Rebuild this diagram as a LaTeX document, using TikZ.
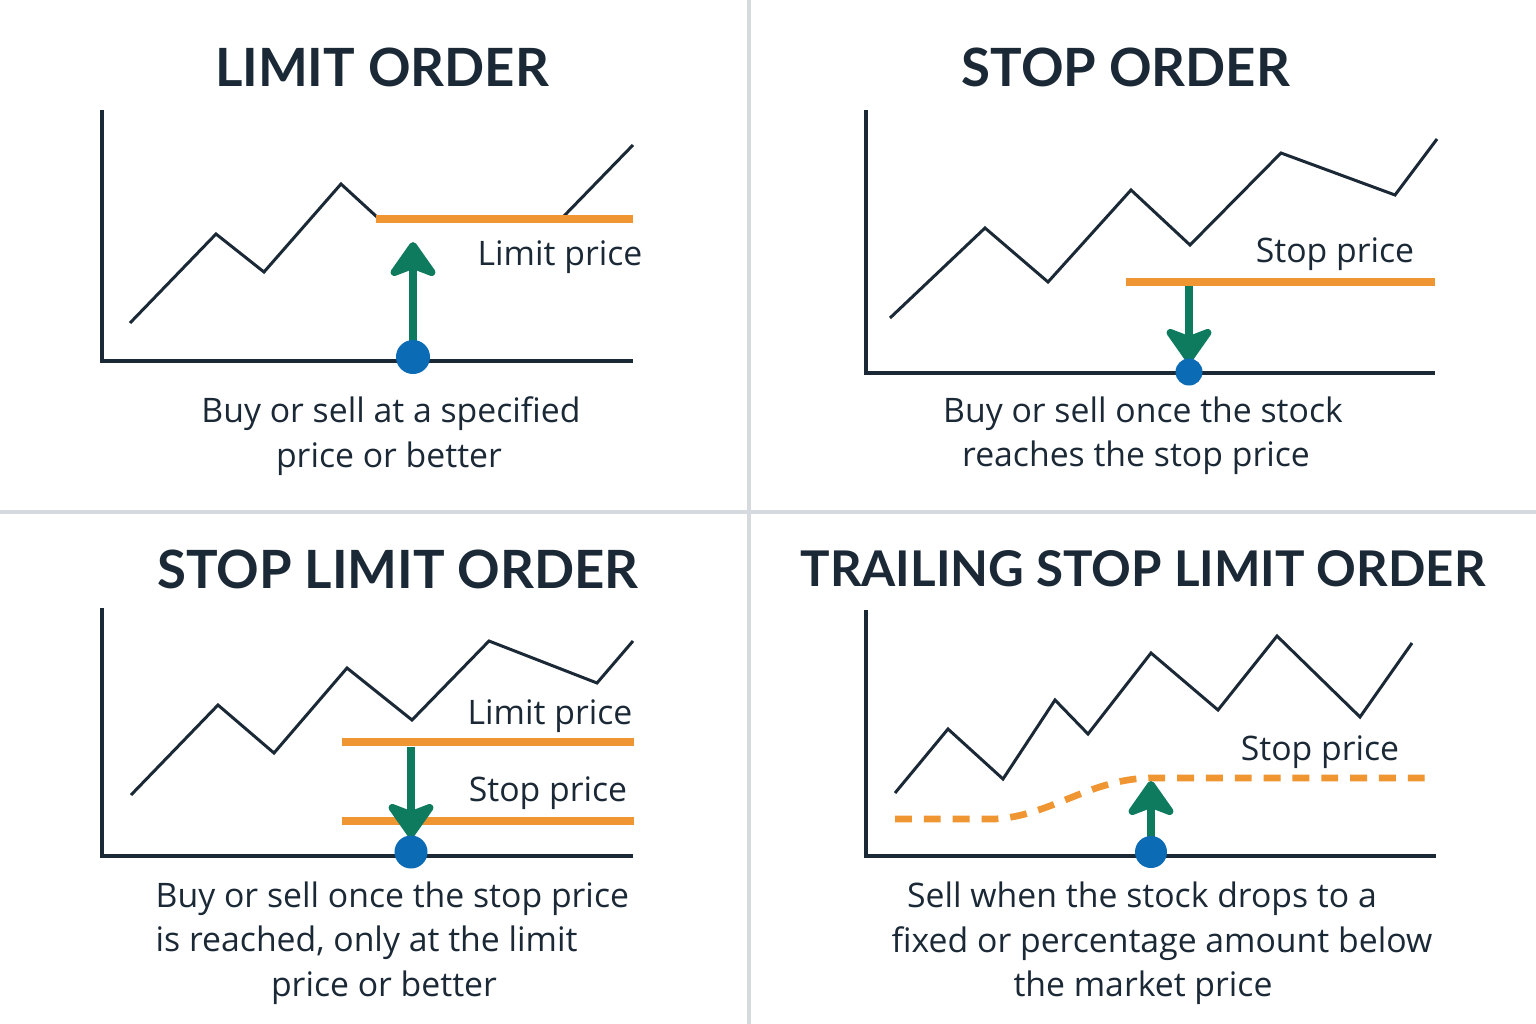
\documentclass[tikz,border=0pt]{standalone}
\usepackage{fontspec}
\setmainfont{Open Sans}
\newfontfamily\headfont{Lato}
\usetikzlibrary{arrows.meta}
\definecolor{ink}{HTML}{1B2836}
\definecolor{ordorange}{HTML}{EF9531}
\definecolor{ordgreen}{HTML}{0E7A5E}
\definecolor{ordblue}{HTML}{0B6BB4}
\definecolor{panelrule}{HTML}{D6D9DE}
\tikzset{
  head/.style={font=\headfont\bfseries\fontsize{15}{18}\selectfont, text=ink, inner sep=0pt},
  lab/.style={font=\fontsize{9.6}{11}\selectfont, text=ink, inner sep=0pt, anchor=base},
  axis/.style={draw=ink, line width=0.9pt},
  price/.style={draw=ink, line width=0.85pt},
  level/.style={draw=ordorange, line width=2pt},
  trail/.style={draw=ordorange, line width=1.9pt, dash pattern=on 4.8pt off 3.4pt},
  move/.style={draw=ordgreen, line width=2.3pt,
    -{Stealth[round,length=11.5pt,width=16pt,inset=3pt]}},
  dot/.style={circle, fill=ordblue, inner sep=0pt, minimum size=#1},
}

\begin{document}
\begin{tikzpicture}[x=0.01cm, y=-0.01cm]
      \fill[white] (0,0) rectangle (1536,1024);
      \useasboundingbox (0,0) rectangle (1536,1024);

      \draw[panelrule, line width=0.9pt] (749,0) -- (749,1024);
      \draw[panelrule, line width=0.9pt] (0,512) -- (1536,512);

      % limit order
      \node[head] (limtitle) at (382,67) {LIMIT ORDER};
      \draw[axis] (102,110) -- (102,361) -- (633,361);
      \draw[price] (130,323) -- (216,234) -- (264,272) -- (341,184) -- (377,217);
      \draw[price] (563,217) -- (633,145);
      \coordinate (lima) at (376,219);
      \coordinate (limb) at (633,219);
      \draw[level] (lima) -- (limb);
      \node[lab] (limlab) at (560,265) {Limit price};
      \coordinate (limbase) at (413,357);
      \coordinate (limtip) at (413,242);
      \draw[move] (limbase) -- (limtip);
      \node[dot=0.34cm] (limdot) at (limbase) {};
      \node[lab] (limtexta) at (391,422) {Buy or sell at a specified};
      \node[lab] (limtextb) at (389,467) {price or better};

      % stop order
      \node[head] (stoptitle) at (1126,67) {STOP ORDER};
      \draw[axis] (866,110) -- (866,373) -- (1435,373);
      \draw[price] (890,318) -- (985,228) -- (1048,282) -- (1131,190) -- (1190,245)
        -- (1281,153) -- (1395,195) -- (1437,139);
      \coordinate (stopa) at (1126,282);
      \coordinate (stopb) at (1435,282);
      \draw[level] (stopa) -- (stopb);
      \node[lab] (stoplab) at (1335,262) {Stop price};
      \coordinate (stopbase) at (1189,286);
      \coordinate (stoptip) at (1189,363);
      \draw[move] (stopbase) -- (stoptip);
      \node[dot=0.27cm] (stopdot) at (1189,372) {};
      \node[lab] (stoptexta) at (1143,422) {Buy or sell once the stock};
      \node[lab] (stoptextb) at (1136,466) {reaches the stop price};

      % stop limit order
      \node[head] (sltitle) at (398,569) {STOP LIMIT ORDER};
      \draw[axis] (102,608) -- (102,856) -- (633,856);
      \draw[price] (131,795) -- (218,705) -- (274,753) -- (347,668) -- (412,720)
        -- (489,641) -- (597,683) -- (633,641);
      \coordinate (sllima) at (342,742);
      \coordinate (sllimb) at (634,742);
      \coordinate (slstopa) at (342,821);
      \coordinate (slstopb) at (634,821);
      \draw[level] (sllima) -- (sllimb);
      \draw[level] (slstopa) -- (slstopb);
      \node[lab] (sllimlab) at (550,724) {Limit price};
      \node[lab] (slstoplab) at (548,801) {Stop price};
      \coordinate (slbase) at (411,747);
      \coordinate (sltip) at (411,838);
      \draw[move] (slbase) -- (sltip);
      \node[dot=0.33cm] (sldot) at (411,852) {};
      \node[lab, anchor=base west] (sltexta) at (155,907) {Buy or sell once the stop price};
      \node[lab, anchor=base west] (sltextb) at (155,951) {is reached, only at the limit};
      \node[lab] (sltextc) at (384,996) {price or better};

      % trailing stop limit order
      \node[head, font=\headfont\bfseries\fontsize{14}{17}\selectfont] (trtitle) at (1143,569)
      {TRAILING STOP LIMIT ORDER};
      \draw[axis] (866,610) -- (866,856) -- (1436,856);
      \draw[price] (895,793) -- (948,729) -- (1003,779) -- (1055,700) -- (1088,734)
        -- (1151,653) -- (1218,710) -- (1277,636) -- (1360,717) -- (1412,643);
      \coordinate (tra) at (895,819);
      \coordinate (trb) at (995,819);
      \coordinate (trc) at (1150,778);
      \coordinate (trd) at (1436,778);
      \draw[trail] (tra) -- (trb) .. controls (1050,816) and (1090,779) .. (trc) -- (trd);
      \node[lab] (trlab) at (1320,760) {Stop price};
      \coordinate (trbase) at (1151,852);
      \coordinate (trtip) at (1151,781);
      \draw[move] (trbase) -- (trtip);
      \node[dot=0.32cm] (trdot) at (trbase) {};
      \node[lab] (trtexta) at (1142,907) {Sell when the stock drops to a};
      \node[lab] (trtextb) at (1162,952) {fixed or percentage amount below};
      \node[lab] (trtextc) at (1143,996) {the market price};
\end{tikzpicture}
\end{document}
